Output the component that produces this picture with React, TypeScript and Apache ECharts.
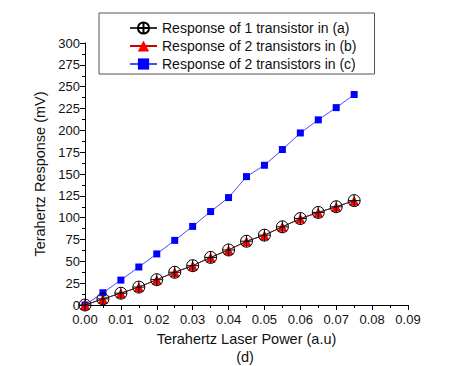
import React, { useEffect, useRef } from "react";
import * as echarts from "echarts";

const powers = [0, 0.005, 0.01, 0.015, 0.02, 0.025, 0.03, 0.035, 0.04, 0.045, 0.05, 0.055, 0.06, 0.065, 0.07, 0.075];
const oneTransistorA = [0, 7, 13.5, 20.5, 29, 37.5, 45, 54.5, 63, 73, 80, 89.5, 99, 106, 112.5, 119.5];
const twoTransistorsB = [0, 7, 13.5, 20.5, 29, 37.5, 45, 54.5, 63, 73, 80, 89.5, 99, 106, 112.5, 119.5];
const twoTransistorsC = [0, 14, 28.5, 43.5, 58.5, 74, 90, 107, 123, 147, 160, 178, 197, 212, 226, 241];

const seriesNames = [
  "Response of 1 transistor in (a)",
  "Response of 2 transistors in (b)",
  "Response of 2 transistors in (c)",
];

const FONT = "Liberation Sans, Arial, sans-serif";
const circlePlus =
  "path://M0,10 A10,10 0 1,1 20,10 A10,10 0 1,1 0,10 Z M10,0 L10,20 M0,10 L20,10";

const pairs = (ys: number[]) => powers.map((x, i) => [x, ys[i]]);

export default function App() {
  const ref = useRef<HTMLDivElement>(null);
  useEffect(() => {
    if (!ref.current) return;
    const chart = echarts.init(ref.current, undefined, { renderer: "svg" });
    chart.setOption({
      animation: false,
      backgroundColor: "#ffffff",
      textStyle: { fontFamily: FONT },
      grid: { left: 85, right: 66, top: 43, bottom: 61 },
      legend: {
        orient: "vertical",
        left: 99,
        top: 13,
        padding: [8, 18, 3, 30],
        itemGap: 4,
        itemWidth: 27,
        itemHeight: 14,
        borderColor: "#555",
        borderWidth: 1,
        backgroundColor: "#fff",
        data: seriesNames,
        textStyle: { fontFamily: FONT, fontSize: 14, color: "#111" },
      },
      xAxis: {
        type: "value",
        min: 0,
        max: 0.09,
        interval: 0.01,
        name: "Terahertz Laser Power (a.u)",
        nameLocation: "middle",
        nameGap: 26,
        nameTextStyle: { fontFamily: FONT, fontSize: 14.5, color: "#111" },
        axisLine: { lineStyle: { color: "#000", width: 1 } },
        axisTick: { show: true, length: 5, lineStyle: { color: "#000" } },
        minorTick: { show: true, splitNumber: 2, length: 3, lineStyle: { color: "#000" } },
        axisLabel: {
          margin: 8,
          fontFamily: FONT,
          fontSize: 13,
          lineHeight: 12,
          color: "#111",
          formatter: (v: number) => v.toFixed(2),
        },
        splitLine: { show: false },
      },
      yAxis: {
        type: "value",
        min: 0,
        max: 300,
        interval: 25,
        name: "Terahertz Response (mV)",
        nameLocation: "middle",
        nameGap: 36,
        nameTextStyle: { fontFamily: FONT, fontSize: 14.5, color: "#111" },
        axisLine: { show: true, lineStyle: { color: "#000", width: 1 } },
        axisTick: { show: true, length: 5, lineStyle: { color: "#000" } },
        minorTick: { show: true, splitNumber: 2, length: 3, lineStyle: { color: "#000" } },
        axisLabel: { margin: 5, fontFamily: FONT, fontSize: 13, lineHeight: 11, color: "#111" },
        splitLine: { show: false },
      },
      graphic: [
        {
          type: "text",
          x: 245,
          y: 357,
          style: {
            text: "(d)",
            font: "14.5px " + FONT,
            fill: "#111",
            textAlign: "center",
            textVerticalAlign: "middle",
          },
        },
      ],
      series: [
        {
          name: seriesNames[1],
          type: "line",
          data: pairs(twoTransistorsB),
          symbol: "triangle",
          symbolSize: 10,
          itemStyle: { color: "#ff0000" },
          lineStyle: { color: "#d00000", width: 1 },
          z: 3,
        },
        {
          name: seriesNames[0],
          type: "line",
          data: pairs(oneTransistorA),
          symbol: circlePlus,
          symbolSize: 12,
          itemStyle: { color: "rgba(0,0,0,0)", borderColor: "#000", borderWidth: 1 },
          lineStyle: { color: "#333", width: 1 },
          z: 4,
        },
        {
          name: seriesNames[2],
          type: "line",
          data: pairs(twoTransistorsC),
          symbol: "rect",
          symbolSize: 7,
          itemStyle: { color: "#0000ff" },
          lineStyle: { color: "#4a4aff", width: 1 },
          z: 2,
        },
      ],
    });
    return () => chart.dispose();
  }, []);
  return (
    <div
      ref={ref}
      style={{ position: "fixed", left: 0, top: 0, width: 474, height: 366, background: "#fff" }}
    />
  );
}
